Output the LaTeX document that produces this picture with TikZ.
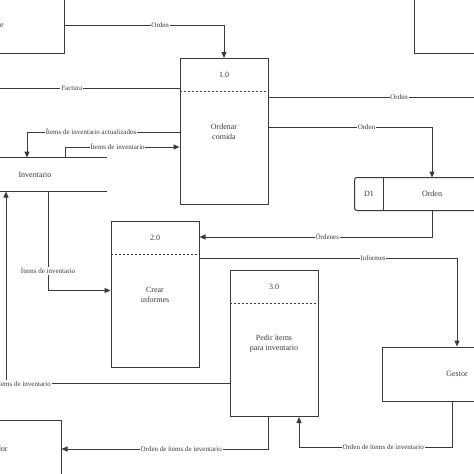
\documentclass[tikz,border=0pt]{standalone}
\usepackage{fontspec}
\setmainfont{Liberation Serif}
\usetikzlibrary{arrows.meta,positioning}
\definecolor{LineGray}{HTML}{3A3A3A}

\begin{document}
\begin{tikzpicture}[x=1pt,y=-1pt,
  line width=1pt, color=LineGray,
  proc/.style={draw, minimum width=88pt, minimum height=146pt, align=center,
    font=\fontsize{8}{10}\selectfont},
  ext/.style={draw, font=\fontsize{8}{10}\selectfont},
  txt/.style={font=\fontsize{8}{10}\selectfont},
  lbl/.style={fill=white, inner sep=0.8pt, font=\fontsize{7}{8}\selectfont},
  flow/.style={-{Triangle[length=6pt,width=5pt]}}]
  \useasboundingbox (0,0) rectangle (474,474);
  \clip (0,0) rectangle (474,474);

  % external entities
  \node[ext, minimum width=144pt, minimum height=56pt] (cliente) at (-8,25) {Cliente};
  \node[ext, minimum width=120pt, minimum height=60pt] (banco) at (474,23) {};
  \node[ext, minimum width=150pt, minimum height=54pt] (gestor) at (457,374) {Gestor};
  \node[ext, minimum width=140pt, minimum height=58pt] (proveedor) at (-9,449) {Proveedor};

  % processes
  \node[proc] (p1) at (224,131.5) {Ordenar\\comida};
  \node[proc] (p2) at (155,294.5) {Crear\\informes};
  \node[proc] (p3) at (274,343.5) {Pedir ítems\\para inventario};
  \foreach \p/\n in {p1/1.0,p2/2.0,p3/3.0} {
    \node[txt] (num\p) at ([yshift=-17pt]\p.north) {\n};
    \draw[dash pattern=on 2.5pt off 1.5pt] ([yshift=-33pt]\p.north west) -- ([yshift=-33pt]\p.north east);
  }

  % data stores
  \node[txt, minimum width=28pt, minimum height=32pt] (d1) at (369,194) {D1};
  \node[txt, minimum width=98pt, minimum height=32pt] (dorden) at (432,194) {Orden};
  \draw[rounded corners=2.5pt] (dorden.north east) -- (d1.north west) -- (d1.south west) -- (dorden.south east);
  \draw (d1.north east) -- (d1.south east);
  \node[txt, minimum height=33pt] (inv) at (35,174.5) {Inventario};
  \draw (inv.north -| -5,0) -- (inv.north -| 107,0);
  \draw (inv.south -| -5,0) -- (inv.south -| 107,0);

  \coordinate (facturaend) at (-20,88);
  \coordinate (ordenend) at (490,97);

  % flows
  \draw[flow] (cliente.east) -| node[lbl,pos=0.3]{Orden} (p1.north);
  \draw[flow] ([yshift=-30pt]p1.north west) -- node[lbl,pos=0.54]{Factura} (facturaend);
  \draw[flow] ([yshift=-39pt]p1.north east) -- node[lbl,pos=0.59]{Orden} (ordenend);
  \draw[flow] ([yshift=-69pt]p1.north east) -| node[lbl,pos=0.3]{Orden} (dorden.north);
  \draw[flow] ([yshift=-74pt]p1.north west) -| node[lbl,pos=0.29]{Ítems de inventario actualizados} ([xshift=-8pt]inv.north);
  \draw[flow] ([xshift=30pt]inv.north) |- node[lbl,pos=0.73]{Ítems de inventario} ([yshift=-89pt]p1.north west);
  \draw[flow] ([xshift=13pt]inv.south) |- node[lbl,pos=0.4]{Ítems de inventario} ([yshift=-69.5pt]p2.north west);
  \draw[flow] ([yshift=-113.5pt]p3.north west) -| node[lbl,pos=0.46]{Ítems de inventario} ([xshift=-29pt]inv.south);
  \draw[flow] (dorden.south) |- node[lbl,pos=0.725]{Órdenes} ([yshift=-16pt]p2.north east);
  \draw[flow] ([yshift=-37pt]p2.north east) -| node[lbl,pos=0.337]{Informes} (gestor.north);
  \draw[flow] ([xshift=-5pt]gestor.south) |- node[lbl,pos=0.725]{Orden de ítems de inventario}
    ([xshift=25pt,yshift=-30pt]p3.south) -- ([xshift=25pt]p3.south);
  \draw[flow] ([xshift=-6pt]p3.south) |- node[lbl,pos=0.71]{Orden de ítems de inventario} (proveedor.east);
\end{tikzpicture}
\end{document}
